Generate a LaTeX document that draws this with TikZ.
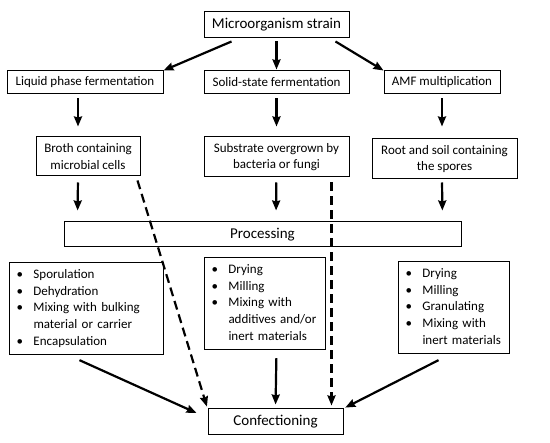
\documentclass[tikz,border=0pt]{standalone}
\usepackage{fontspec}
\setmainfont{Carlito}
\usetikzlibrary{arrows.meta}
\begin{document}
\fontsize{13}{16.7}\selectfont
\begin{tikzpicture}[x=1pt,y=-1pt,
        box/.style={draw,line width=1pt,inner sep=2pt,align=center},
        big/.style={box,font=\fontsize{15}{18}\selectfont},
        lst/.style={draw,line width=1pt,inner xsep=7pt,align=left,anchor=north west},
        arr/.style={-{Stealth[length=10pt,width=8pt,inset=1pt]},line width=2.2pt},
        darr/.style={arr,dash pattern=on 9pt off 5pt}]
        \useasboundingbox (0,0) rectangle (550,443);
        \node[big,minimum width=145,minimum height=26] (strain) at (276.5,25) {Microorganism strain};
        \node[box,minimum width=156,minimum height=23] (liq) at (85,82.5) {Liquid phase fermentation};
        \node[box,minimum width=145,minimum height=23] (solid) at (276.5,82.5) {Solid-state fermentation};
        \node[box,minimum width=116,minimum height=23] (amf) at (442,82.5) {AMF multiplication};
        \node[box,minimum width=104,minimum height=39] (broth) at (88,156.5) {Broth containing\\microbial cells};
        \node[box,minimum width=145,minimum height=40] (subs) at (276.5,157) {Substrate overgrown by\\bacteria or fungi};
        \node[box,minimum width=145,minimum height=40] (root) at (444.5,159) {Root and soil containing\\the spores};
        \node[big,minimum width=397,minimum height=25] (proc) at (262.5,234.5) {Processing};
        \node[lst,minimum width=154,minimum height=90,text width=140] (lst1) at (9,262)
                {\begin{tabular}{@{}p{17pt}@{}l@{}}
                \textbullet & Sporulation\\ \textbullet & Dehydration\\ \textbullet & Mixing with bulking\\
                & material or carrier\\ \textbullet & Encapsulation\end{tabular}};
        \node[lst,minimum width=121,minimum height=92,text width=107] (lst2) at (204,257)
                {\begin{tabular}{@{}p{17pt}@{}l@{}}
                \textbullet & Drying\\ \textbullet & Milling\\ \textbullet & Mixing with\\
                & additives and/or\\ & inert materials\end{tabular}};
        \node[lst,minimum width=111,minimum height=90,text width=97] (lst3) at (398,261)
                {\begin{tabular}{@{}p{17pt}@{}l@{}}
                \textbullet & Drying\\ \textbullet & Milling\\ \textbullet & Granulating\\
                \textbullet & Mixing with\\ & inert materials\end{tabular}};
        \node[big,minimum width=135,minimum height=26] (conf) at (275.5,422) {Confectioning};
        \draw[arr] ([xshift=28pt,yshift=-3pt]strain.south west) -- (liq.north east);
        \draw[arr,shorten <=3pt,shorten >=1pt] (strain) -- (solid);
        \draw[arr] ([xshift=-14pt,yshift=-3pt]strain.south east) -- (amf.north west);
        \draw[arr,shorten <=4pt,shorten >=10pt] ([xshift=-7pt]liq.south) -- ([xshift=-10pt]broth.north);
        \draw[arr,shorten <=4pt,shorten >=10pt] (solid) -- (subs);
        \draw[arr,shorten <=4pt,shorten >=12pt] (amf) -- ([xshift=-2.5pt]root.north);
        \draw[arr,shorten <=6pt,shorten >=11pt] ([xshift=-10pt]broth.south) -- ([xshift=14pt]proc.north west);
        \draw[arr,shorten <=5pt,shorten >=11pt] (subs) -- ([xshift=13.5pt]proc.north);
        \draw[arr,shorten <=3pt,shorten >=11pt] ([xshift=-2.5pt]root.south) -- ([xshift=-19pt]proc.north east);
        \draw[arr] ([xshift=-7pt,yshift=-5pt]lst1.south) -- ([xshift=-11pt,yshift=9pt]conf.west);
        \draw[arr,shorten <=8pt,shorten >=4pt] ([xshift=11.5pt]lst2.south) -- (conf.north);
        \draw[arr,shorten >=2pt] ([xshift=-15.5pt,yshift=-6pt]lst3.south) -- (conf.north east);
        \draw[darr,shorten >=2pt] ([xshift=-3pt,yshift=-4pt]broth.south east) -- (conf.north west);
        \draw[darr] ([xshift=-18pt,yshift=-5pt]subs.south east) -- ([xshift=-12pt,yshift=3pt]conf.north east);
\end{tikzpicture}
\end{document}
